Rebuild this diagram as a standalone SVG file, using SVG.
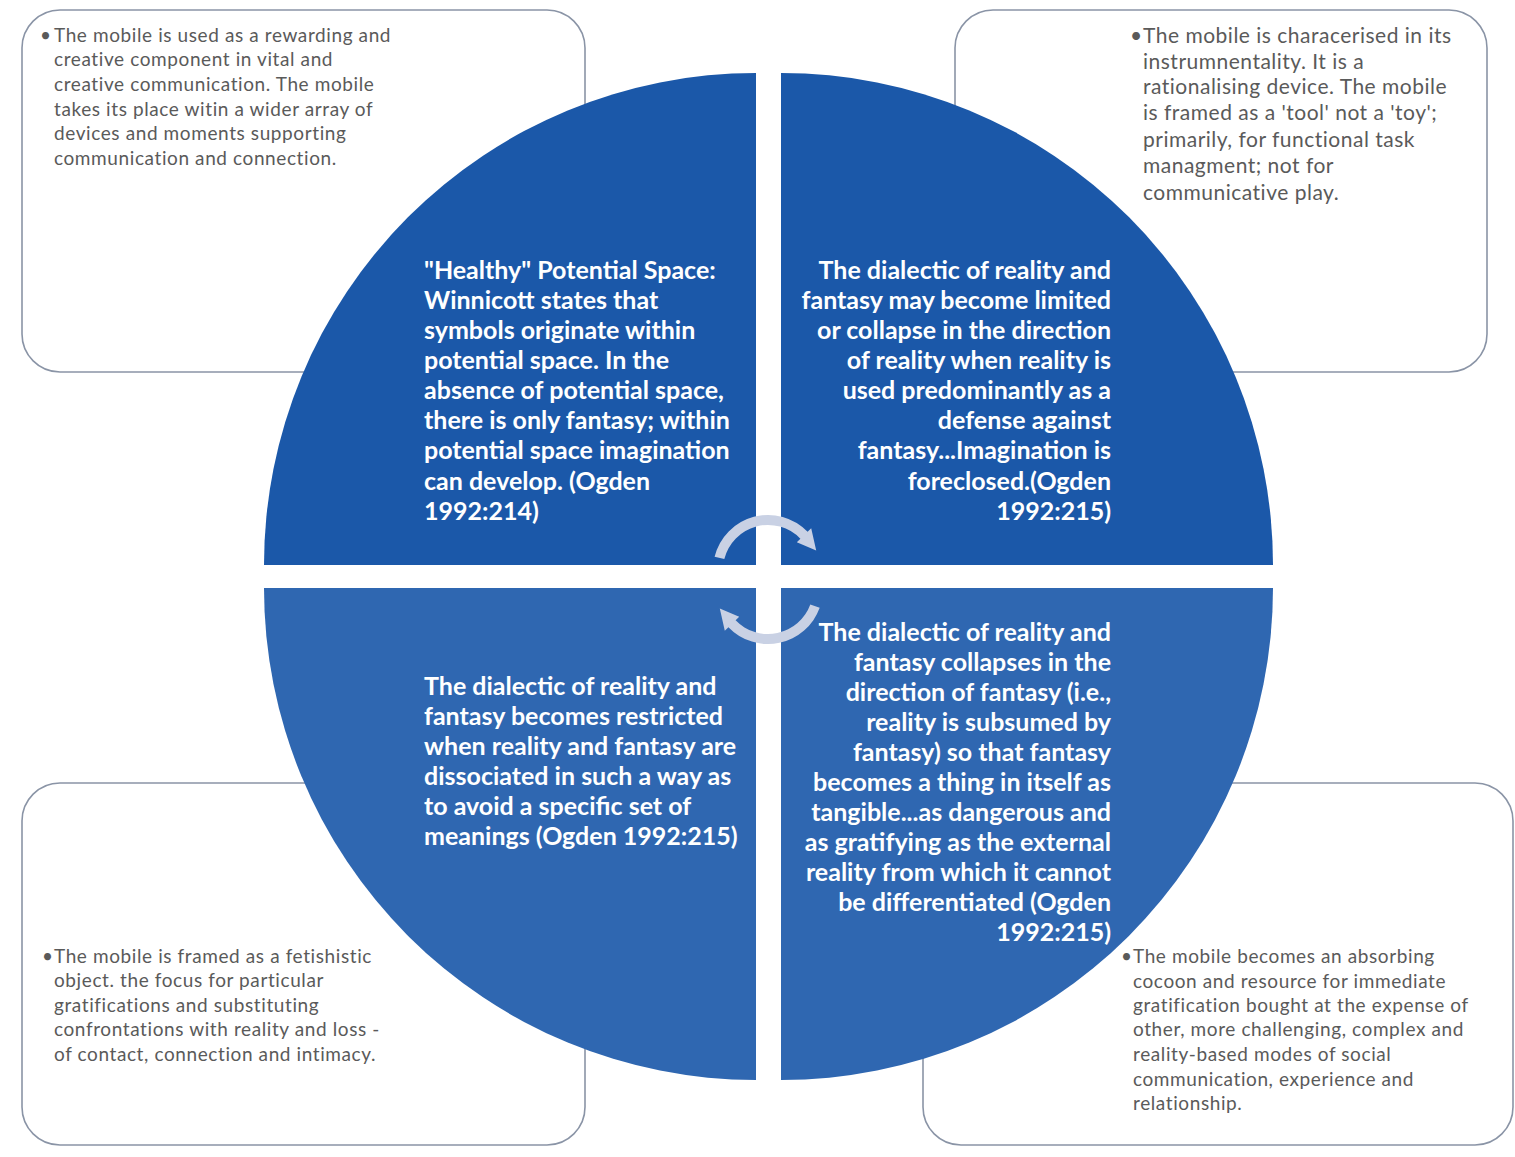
<svg xmlns="http://www.w3.org/2000/svg" width="1515" height="1157" viewBox="0 0 1515 1157">
<style>
.box{fill:#ffffff;stroke:#8a94a6;stroke-width:1.6}
.bt{font-family:Lato,"Liberation Sans",sans-serif;font-size:19px;letter-spacing:0.6px;fill:#5a5a5a}
.bt2{font-family:Lato,"Liberation Sans",sans-serif;font-size:21px;letter-spacing:0.5px;fill:#5a5a5a}
.qt{font-family:Lato,"Liberation Sans",sans-serif;font-size:25px;font-weight:bold;fill:#ffffff}
.qtop{fill:#1b58a9}
.qbot{fill:#2f67b1}
.arc{fill:#c9d1e4}
</style>
<rect width="1515" height="1157" fill="#ffffff"/>
<g id="box-tl">
<rect class="box" x="22" y="10" width="563" height="362" rx="38"/>
<text class="bt"><tspan x="40" y="42">•</tspan><tspan x="54" y="42">The mobile is used as a rewarding and</tspan><tspan x="54" y="66">creative component in vital and</tspan><tspan x="54" y="91">creative communication. The mobile</tspan><tspan x="54" y="116">takes its place witin a wider array of</tspan><tspan x="54" y="140">devices and moments supporting</tspan><tspan x="54" y="165">communication and connection.</tspan></text>
</g>
<g id="box-tr">
<rect class="box" x="955" y="10" width="532" height="362" rx="38"/>
<text class="bt2"><tspan x="1130" y="43">•</tspan><tspan x="1143" y="43">The mobile is characerised in its</tspan><tspan x="1143" y="69">instrumnentality. It is a</tspan><tspan x="1143" y="94">rationalising device. The mobile</tspan><tspan x="1143" y="120">is framed as a 'tool' not a 'toy';</tspan><tspan x="1143" y="147">primarily, for functional task</tspan><tspan x="1143" y="173">managment; not for</tspan><tspan x="1143" y="200">communicative play.</tspan></text>
</g>
<g id="box-bl">
<rect class="box" x="22" y="783" width="563" height="362" rx="38"/>
<text class="bt"><tspan x="42" y="963">•</tspan><tspan x="54" y="963">The mobile is framed as a fetishistic</tspan><tspan x="54" y="987">object. the focus for particular</tspan><tspan x="54" y="1012">gratifications and substituting</tspan><tspan x="54" y="1036">confrontations with reality and loss -</tspan><tspan x="54" y="1061">of contact, connection and intimacy.</tspan></text>
</g>
<g id="box-br">
<rect class="box" x="923" y="783" width="590" height="362" rx="38"/>
<text class="bt"><tspan x="1121" y="963">•</tspan><tspan x="1133" y="963">The mobile becomes an absorbing</tspan><tspan x="1133" y="988">cocoon and resource for immediate</tspan><tspan x="1133" y="1012">gratification bought at the expense of</tspan><tspan x="1133" y="1036">other, more challenging, complex and</tspan><tspan x="1133" y="1061">reality-based modes of social</tspan><tspan x="1133" y="1086">communication, experience and</tspan><tspan x="1133" y="1110">relationship.</tspan></text>
</g>
<g id="quad-tl">
<path class="qtop" d="M756,565 L264,565 A492,492 0 0 1 756,73 Z"/>
<text class="qt"><tspan x="424" y="279">"Healthy" Potential Space:</tspan><tspan x="424" y="309">Winnicott states that</tspan><tspan x="424" y="339">symbols originate within</tspan><tspan x="424" y="369">potential space. In the</tspan><tspan x="424" y="399">absence of potential space,</tspan><tspan x="424" y="429">there is only fantasy; within</tspan><tspan x="424" y="459">potential space imagination</tspan><tspan x="424" y="490">can develop. (Ogden</tspan><tspan x="424" y="520">1992:214)</tspan></text>
</g>
<g id="quad-tr">
<path class="qtop" d="M781,565 L781,73 A492,492 0 0 1 1273,565 Z"/>
<text class="qt" text-anchor="end"><tspan x="1111" y="279">The dialectic of reality and</tspan><tspan x="1111" y="309">fantasy may become limited</tspan><tspan x="1111" y="339">or collapse in the direction</tspan><tspan x="1111" y="369">of reality when reality is</tspan><tspan x="1111" y="399">used predominantly as a</tspan><tspan x="1111" y="429">defense against</tspan><tspan x="1111" y="459">fantasy...Imagination is</tspan><tspan x="1111" y="490">foreclosed.(Ogden</tspan><tspan x="1111" y="520">1992:215)</tspan></text>
</g>
<g id="quad-bl">
<path class="qbot" d="M756,588 L756,1080 A492,492 0 0 1 264,588 Z"/>
<text class="qt"><tspan x="424" y="695">The dialectic of reality and</tspan><tspan x="424" y="725">fantasy becomes restricted</tspan><tspan x="424" y="755">when reality and fantasy are</tspan><tspan x="424" y="785">dissociated in such a way as</tspan><tspan x="424" y="815">to avoid a specific set of</tspan><tspan x="424" y="845">meanings (Ogden 1992:215)</tspan></text>
</g>
<g id="quad-br">
<path class="qbot" d="M781,588 L1273,588 A492,492 0 0 1 781,1080 Z"/>
<text class="qt" text-anchor="end"><tspan x="1111" y="641">The dialectic of reality and</tspan><tspan x="1111" y="671">fantasy collapses in the</tspan><tspan x="1111" y="701">direction of fantasy (i.e.,</tspan><tspan x="1111" y="731">reality is subsumed by</tspan><tspan x="1111" y="761">fantasy) so that fantasy</tspan><tspan x="1111" y="791">becomes a thing in itself as</tspan><tspan x="1111" y="821">tangible...as dangerous and</tspan><tspan x="1111" y="851">as gratifying as the external</tspan><tspan x="1111" y="881">reality from which it cannot</tspan><tspan x="1111" y="911">be differentiated (Ogden</tspan><tspan x="1111" y="941">1992:215)</tspan></text>
</g>
<g id="connectors">
<path class="arc" d="M714.6,556.7 A55,55 0 0 1 807.6,531.8 L811.2,528.3 L816.2,550.5 L796.8,542.2 L800.4,538.7 A45,45 0 0 0 724.3,559.1 Z"/>
<path class="arc" d="M819.7,607.8 A55,55 0 0 1 728.4,627.2 L724.8,630.7 L719.8,608.5 L739.2,616.8 L735.6,620.3 A45,45 0 0 0 810.3,604.4 Z"/>
</g>
</svg>
